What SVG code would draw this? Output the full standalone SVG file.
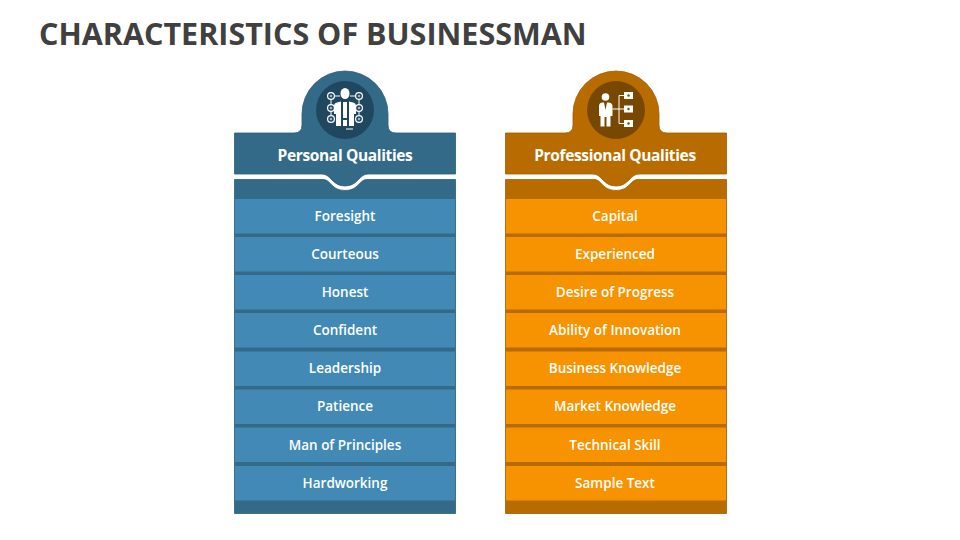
<svg xmlns="http://www.w3.org/2000/svg" width="960" height="540" viewBox="0 0 960 540">
<defs>
<style>
text{font-family:"Open Sans","Noto Sans","Liberation Sans",sans-serif;text-anchor:middle}
.title{font-size:30.500px;font-weight:700;fill:#404040;text-anchor:start}
.head{font-size:15.500px;font-weight:700;fill:#fff;letter-spacing:-.35px}
.row{font-size:13.500px;font-weight:600;fill:#fff}
.bd{fill:#336a87;stroke:#2c5d78;stroke-width:.8}
.bo{fill:#b86c00;stroke:#a05e00;stroke-width:.8}
.rb{fill:#428ab5}
.ro{fill:#f79200}
.ib{fill:#1f4760}
.io{fill:#784700}
.g{fill:#fff}
.l{stroke:#fff;stroke-width:1;fill:none}
</style>
<path id="top" d="M234.500 133H294Q302 133 302 125V114A43 43 0 0 1 388 114V125Q388 133 396 133H455.500V174H368C359 174 358 186 345 186C332 186 331 174 322 174H234.500Z"/>
<path id="low" d="M234.500 179.500H323C331 179.500 331 190.500 345 190.500C359 190.500 359 179.500 367 179.500H455.500V513.500H234.500Z"/>
<g id="node"><circle r="4" fill="#fff"/><circle r="2.800" fill="#1f4760"/><circle r="1.300" fill="#9fb4c2"/></g>
</defs>
<text class="title" x="39" y="45">CHARACTERISTICS OF BUSINESSMAN</text>
<g id="personal">
<use href="#top" class="bd"/>
<use href="#low" class="bd"/>
<circle class="ib" cx="345" cy="110" r="29"/>
<g id="personal-icon">
<ellipse class="g" cx="345" cy="93.500" rx="4.500" ry="5.500"/>
<path class="g" d="M334 106Q334 103 337 102.500L341 101.500V126H336V114H334ZM356 106Q356 103 353 102.500L349 101.500V126H354V114H356ZM343 102H347V118H343ZM343 120H347V126H343Z"/>
<rect class="g" x="346" y="128.500" width="7" height="1"/>
<path class="l" d="M335 96H340M350 96H355M331 100V104M331 112V115M359 100V104M359 112V115"/>
<use href="#node" x="331" y="96"/><use href="#node" x="331" y="108"/><use href="#node" x="331" y="119"/>
<use href="#node" x="359" y="96"/><use href="#node" x="359" y="108"/><use href="#node" x="359" y="119"/>
</g>
<text class="head" x="345" y="161">Personal Qualities</text>
<g id="personal-rows">
<rect class="rb" x="235" y="199" width="220" height="34.500"/><text class="row" x="345" y="220.500">Foresight</text>
<rect class="rb" x="235" y="237" width="220" height="34.500"/><text class="row" x="345" y="258.500">Courteous</text>
<rect class="rb" x="235" y="275" width="220" height="34.500"/><text class="row" x="345" y="296.500">Honest</text>
<rect class="rb" x="235" y="313" width="220" height="34.500"/><text class="row" x="345" y="334.500">Confident</text>
<rect class="rb" x="235" y="351.500" width="220" height="34.500"/><text class="row" x="345" y="372.500">Leadership</text>
<rect class="rb" x="235" y="389.500" width="220" height="34.500"/><text class="row" x="345" y="410.500">Patience</text>
<rect class="rb" x="235" y="427.500" width="220" height="34.500"/><text class="row" x="345" y="449.500">Man of Principles</text>
<rect class="rb" x="235" y="466" width="220" height="34.500"/><text class="row" x="345" y="487.500">Hardworking</text>
</g>
</g>
<g id="professional" transform="translate(271 0)">
<use href="#top" class="bo"/>
<use href="#low" class="bo"/>
<circle class="io" cx="345" cy="110" r="29"/>
</g>
<g id="professional-icon">
<circle class="g" cx="605.500" cy="97" r="3.800"/>
<path class="g" d="M599 106Q599 103 602 102.500H604L605.500 110L607 102.500H609Q612.500 103 612.500 106V116H610.500V126.500H606.500V117H604.500V126.500H600.500V116H599Z"/>
<path class="l" d="M612.500 109H624M619 95.500V123.500M619 95.500H624M619 123.500H624"/>
<rect class="g" x="624" y="92" width="9" height="7"/><rect class="g" x="624" y="105.500" width="9" height="7"/><rect class="g" x="624" y="120" width="9" height="7"/>
<circle class="io" cx="628.500" cy="95.500" r="1.200"/><circle class="io" cx="628.500" cy="109" r="1.200"/><circle class="io" cx="628.500" cy="123.500" r="1.200"/>
</g>
<g id="professional-rows">
<text class="head" x="615" y="161">Professional Qualities</text>
<rect class="ro" x="506" y="199" width="220" height="34.500"/><text class="row" x="615" y="220.500">Capital</text>
<rect class="ro" x="506" y="237" width="220" height="34.500"/><text class="row" x="615" y="258.500">Experienced</text>
<rect class="ro" x="506" y="275" width="220" height="34.500"/><text class="row" x="615" y="296.500">Desire of Progress</text>
<rect class="ro" x="506" y="313" width="220" height="34.500"/><text class="row" x="615" y="334.500">Ability of Innovation</text>
<rect class="ro" x="506" y="351.500" width="220" height="34.500"/><text class="row" x="615" y="372.500">Business Knowledge</text>
<rect class="ro" x="506" y="389.500" width="220" height="34.500"/><text class="row" x="615" y="410.500">Market Knowledge</text>
<rect class="ro" x="506" y="427.500" width="220" height="34.500"/><text class="row" x="615" y="449.500">Technical Skill</text>
<rect class="ro" x="506" y="466" width="220" height="34.500"/><text class="row" x="615" y="487.500">Sample Text</text>
</g>
</svg>
